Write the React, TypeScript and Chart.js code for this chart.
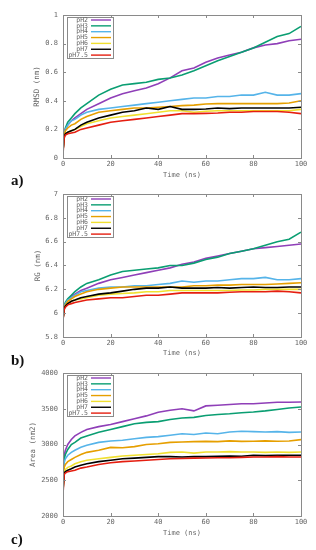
import React, { useEffect, useRef } from 'react';
import { Chart, registerables } from 'chart.js';
Chart.register(...registerables);

const TIME = [0, 0.5, 1, 2, 3.5, 5, 7.5, 10, 15, 20, 25, 30, 35, 40, 45, 50, 55, 60, 65, 70, 75, 80, 85, 90, 95, 100];
const LABELS = ['pH2', 'pH3', 'pH4', 'pH5', 'pH6', 'pH7', 'pH7.5'];
const COLORS = ['#8f3fb8', '#0a9e72', '#56b4e9', '#e69f00', '#f0e030', '#000000', '#e51e10'];

// Panel a: RMSD (nm)
const RMSD_PH2 = [0.05, 0.17, 0.20, 0.23, 0.26, 0.28, 0.31, 0.34, 0.38, 0.42, 0.45, 0.47, 0.49, 0.52, 0.56, 0.61, 0.63, 0.67, 0.70, 0.72, 0.74, 0.77, 0.79, 0.80, 0.82, 0.83];
const RMSD_PH3 = [0.05, 0.18, 0.21, 0.25, 0.28, 0.31, 0.35, 0.38, 0.44, 0.48, 0.51, 0.52, 0.53, 0.55, 0.56, 0.58, 0.61, 0.645, 0.68, 0.71, 0.74, 0.77, 0.81, 0.85, 0.87, 0.92];
const RMSD_PH4 = [0.05, 0.17, 0.20, 0.23, 0.26, 0.27, 0.30, 0.32, 0.34, 0.35, 0.36, 0.37, 0.38, 0.39, 0.40, 0.41, 0.42, 0.42, 0.43, 0.43, 0.44, 0.44, 0.46, 0.44, 0.44, 0.45];
const RMSD_PH5 = [0.05, 0.16, 0.19, 0.21, 0.23, 0.24, 0.27, 0.29, 0.32, 0.33, 0.34, 0.35, 0.35, 0.355, 0.36, 0.366, 0.37, 0.378, 0.38, 0.38, 0.38, 0.38, 0.38, 0.38, 0.385, 0.40];
const RMSD_PH6 = [0.05, 0.15, 0.17, 0.18, 0.19, 0.20, 0.22, 0.24, 0.26, 0.28, 0.29, 0.30, 0.31, 0.32, 0.33, 0.33, 0.32, 0.327, 0.33, 0.33, 0.33, 0.33, 0.33, 0.33, 0.33, 0.34];
const RMSD_PH7 = [0.05, 0.15, 0.17, 0.18, 0.19, 0.20, 0.23, 0.25, 0.28, 0.30, 0.32, 0.33, 0.35, 0.34, 0.36, 0.34, 0.34, 0.343, 0.35, 0.345, 0.35, 0.35, 0.35, 0.35, 0.35, 0.355];
const RMSD_PH75 = [0.03, 0.14, 0.16, 0.17, 0.175, 0.18, 0.20, 0.21, 0.23, 0.25, 0.26, 0.27, 0.28, 0.29, 0.30, 0.31, 0.31, 0.312, 0.315, 0.32, 0.32, 0.325, 0.325, 0.325, 0.32, 0.31];

// Panel b: RG (nm)
const RG_PH2 = [5.95, 6.05, 6.08, 6.11, 6.14, 6.16, 6.19, 6.21, 6.25, 6.28, 6.30, 6.32, 6.34, 6.36, 6.38, 6.41, 6.43, 6.46, 6.48, 6.50, 6.52, 6.54, 6.55, 6.56, 6.57, 6.58];
const RG_PH3 = [5.95, 6.06, 6.09, 6.12, 6.15, 6.18, 6.22, 6.25, 6.28, 6.32, 6.35, 6.36, 6.37, 6.38, 6.40, 6.40, 6.42, 6.45, 6.47, 6.50, 6.52, 6.54, 6.57, 6.60, 6.62, 6.68];
const RG_PH4 = [5.95, 6.05, 6.08, 6.11, 6.13, 6.15, 6.18, 6.19, 6.21, 6.22, 6.22, 6.23, 6.23, 6.24, 6.25, 6.27, 6.26, 6.27, 6.27, 6.28, 6.29, 6.29, 6.30, 6.28, 6.28, 6.29];
const RG_PH5 = [5.95, 6.05, 6.07, 6.10, 6.12, 6.14, 6.16, 6.18, 6.20, 6.21, 6.22, 6.22, 6.22, 6.22, 6.22, 6.22, 6.23, 6.23, 6.235, 6.235, 6.24, 6.24, 6.24, 6.245, 6.25, 6.255];
const RG_PH6 = [5.95, 6.04, 6.06, 6.08, 6.10, 6.11, 6.12, 6.13, 6.15, 6.16, 6.165, 6.17, 6.18, 6.18, 6.19, 6.19, 6.19, 6.19, 6.19, 6.19, 6.195, 6.195, 6.20, 6.20, 6.20, 6.20];
const RG_PH7 = [5.95, 6.04, 6.06, 6.08, 6.10, 6.11, 6.13, 6.14, 6.16, 6.17, 6.185, 6.20, 6.21, 6.21, 6.22, 6.21, 6.21, 6.21, 6.215, 6.21, 6.215, 6.22, 6.215, 6.215, 6.22, 6.22];
const RG_PH75 = [5.94, 6.03, 6.05, 6.07, 6.08, 6.09, 6.10, 6.11, 6.12, 6.13, 6.13, 6.14, 6.15, 6.15, 6.16, 6.17, 6.17, 6.17, 6.17, 6.175, 6.18, 6.18, 6.18, 6.185, 6.18, 6.17];

// Panel c: Area (nm2)
const AREA_PH2 = [2350, 2850, 2920, 3000, 3070, 3120, 3170, 3210, 3250, 3280, 3320, 3360, 3400, 3450, 3480, 3500, 3470, 3540, 3550, 3560, 3570, 3570, 3580, 3590, 3590, 3594];
const AREA_PH3 = [2350, 2800, 2860, 2930, 3000, 3030, 3090, 3120, 3170, 3210, 3250, 3290, 3310, 3320, 3350, 3370, 3380, 3405, 3420, 3430, 3445, 3455, 3470, 3490, 3510, 3524];
const AREA_PH4 = [2350, 2750, 2800, 2850, 2890, 2920, 2960, 2990, 3030, 3050, 3060, 3080, 3100, 3110, 3130, 3150, 3140, 3160, 3150, 3174, 3185, 3180, 3175, 3180, 3170, 3174];
const AREA_PH5 = [2350, 2680, 2720, 2760, 2790, 2820, 2860, 2890, 2920, 2960, 2955, 2970, 3000, 3010, 3030, 3035, 3040, 3044, 3040, 3050, 3044, 3045, 3050, 3045, 3050, 3068];
const AREA_PH6 = [2350, 2620, 2650, 2680, 2700, 2730, 2760, 2780, 2800, 2820, 2840, 2850, 2860, 2870, 2890, 2895, 2880, 2895, 2895, 2900, 2895, 2895, 2890, 2895, 2890, 2895];
const AREA_PH7 = [2350, 2600, 2620, 2640, 2660, 2685, 2710, 2730, 2760, 2780, 2800, 2810, 2820, 2830, 2830, 2825, 2830, 2830, 2835, 2840, 2835, 2849, 2845, 2850, 2849, 2849];
const AREA_PH75 = [2300, 2580, 2600, 2620, 2630, 2640, 2670, 2685, 2720, 2745, 2760, 2770, 2780, 2790, 2800, 2805, 2810, 2811, 2815, 2815, 2820, 2825, 2825, 2830, 2825, 2825];

const X_TICKS = [0, 20, 40, 60, 80, 100];
const RMSD_TICKS = [0, 0.2, 0.4, 0.6, 0.8, 1];
const RG_TICKS = [5.8, 6, 6.2, 6.4, 6.6, 6.8, 7];
const AREA_TICKS = [2000, 2500, 3000, 3500, 4000];

const FONT = 'DejaVu Sans Mono';
const TEXT_COLOR = '#666';
const FRAME_COLOR = '#8a8a8a';

type PanelProps = {
  series: number[][];
  yTicks: number[];
  yTitle: string;
  top: number;
  height: number;
  plotTop: number;
  plotBottom: number;
  xTitleCenter: number;
  yTitleCenter: number;
};

const framePlugin = {
  id: 'gnuFrame',
  afterDatasetsDraw(chart: any) {
    const { ctx, chartArea } = chart;
    const { left, right, top, bottom } = chartArea;
    const xs = chart.scales.x;
    const ys = chart.scales.y;
    ctx.save();
    ctx.strokeStyle = FRAME_COLOR;
    ctx.lineWidth = 1;
    ctx.strokeRect(Math.round(left) + 0.5, Math.round(top) + 0.5, Math.round(right - left), Math.round(bottom - top));
    const tl = 3;
    ctx.beginPath();
    xs.ticks.forEach((t: any) => {
      const px = Math.round(xs.getPixelForValue(t.value)) + 0.5;
      ctx.moveTo(px, bottom);
      ctx.lineTo(px, bottom - tl);
      ctx.moveTo(px, top);
      ctx.lineTo(px, top + tl);
    });
    ys.ticks.forEach((t: any) => {
      const py = Math.round(ys.getPixelForValue(t.value)) + 0.5;
      ctx.moveTo(left, py);
      ctx.lineTo(left + tl, py);
      ctx.moveTo(right, py);
      ctx.lineTo(right - tl, py);
    });
    ctx.stroke();

    // legend box (gnuplot style: text right-aligned, sample line to the right)
    const bx = left + 4;
    const by = top + 1.5;
    const bw = 46;
    const bh = 41;
    ctx.strokeStyle = FRAME_COLOR;
    ctx.strokeRect(Math.round(bx) + 0.5, Math.round(by) + 0.5, bw, bh);
    ctx.font = `6.5px "${FONT}"`;
    ctx.textAlign = 'right';
    ctx.textBaseline = 'middle';
    chart.data.datasets.forEach((ds: any, i: number) => {
      const ry = by + 3.5 + i * 5.85;
      ctx.fillStyle = TEXT_COLOR;
      ctx.fillText(ds.label, bx + 21, ry);
      ctx.strokeStyle = ds.borderColor;
      ctx.lineWidth = 1.4;
      ctx.beginPath();
      ctx.moveTo(bx + 24, ry);
      ctx.lineTo(bx + 44, ry);
      ctx.stroke();
    });
    ctx.restore();
  },
};

function fmt(v: number) {
  return String(Math.round(v * 10) / 10);
}

function Panel(props: PanelProps) {
  const ref = useRef<HTMLCanvasElement>(null);
  useEffect(() => {
    const canvas = ref.current;
    if (!canvas) return;
    const yMin = props.yTicks[0];
    const yMax = props.yTicks[props.yTicks.length - 1];
    const yStep = props.yTicks[1] - props.yTicks[0];
    const axisH = props.height - props.plotBottom;
    const chart = new Chart(canvas, {
      type: 'line',
      data: {
        datasets: props.series.map((arr, i) => ({
          label: LABELS[i],
          data: TIME.map((t, k) => ({ x: t, y: arr[k] })),
          borderColor: COLORS[i],
          backgroundColor: COLORS[i],
          borderWidth: 1.6,
          pointRadius: 0,
          tension: 0,
          fill: false,
          order: 6 - i,
        })),
      },
      options: {
        responsive: false,
        animation: false,
        devicePixelRatio: 1,
        layout: { padding: { left: 0, right: 15, top: props.plotTop, bottom: 0 } },
        plugins: { legend: { display: false }, tooltip: { enabled: false } },
        scales: {
          x: {
            type: 'linear',
            min: 0,
            max: 100,
            afterBuildTicks: (s: any) => { s.ticks = X_TICKS.map((v) => ({ value: v })); },
            afterFit: (s: any) => { s.height = axisH; },
            grid: { display: false, drawTicks: false },
            border: { display: false },
            ticks: { color: TEXT_COLOR, font: { family: FONT, size: 7 }, padding: 2, maxRotation: 0, callback: (v: any) => String(v) },
            title: {
              display: true,
              text: 'Time (ns)',
              color: TEXT_COLOR,
              font: { family: FONT, size: 7 },
              padding: { top: 0, bottom: props.height - props.xTitleCenter - 4.2 },
            },
          },
          y: {
            type: 'linear',
            min: yMin,
            max: yMax,
            afterBuildTicks: (s: any) => { s.ticks = props.yTicks.map((v) => ({ value: v })); },
            afterFit: (s: any) => { s.width = 63; },
            grid: { display: false, drawTicks: false },
            border: { display: false },
            ticks: { color: TEXT_COLOR, font: { family: FONT, size: 7 }, padding: 5, stepSize: yStep, callback: (v: any) => fmt(Number(v)) },
            title: {
              display: true,
              text: props.yTitle,
              color: TEXT_COLOR,
              font: { family: FONT, size: 7.5 },
              padding: { top: props.yTitleCenter - 4.5, bottom: 0 },
            },
          },
        },
      },
      plugins: [framePlugin],
    } as any);
    return () => chart.destroy();
  }, []);
  return (
    <canvas
      ref={ref}
      width={316}
      height={props.height}
      style={{ position: 'absolute', left: 0, top: props.top, width: 316, height: props.height }}
    />
  );
}

const letterStyle = (top: number): React.CSSProperties => ({
  position: 'absolute',
  left: 11,
  top,
  fontFamily: '"Liberation Serif", serif',
  fontSize: 15,
  fontWeight: 'bold',
  lineHeight: '16px',
  color: '#111',
  zIndex: 2,
});

export default function App() {
  return (
    <div style={{ position: 'absolute', left: 0, top: 0, width: 316, height: 550, background: '#fff', overflow: 'hidden' }}>
      <Panel
        series={[RMSD_PH2, RMSD_PH3, RMSD_PH4, RMSD_PH5, RMSD_PH6, RMSD_PH7, RMSD_PH75]}
        yTicks={RMSD_TICKS}
        yTitle="RMSD (nm)"
        top={0}
        height={180}
        plotTop={15}
        plotBottom={158}
        xTitleCenter={175}
        yTitleCenter={37}
      />
      <Panel
        series={[RG_PH2, RG_PH3, RG_PH4, RG_PH5, RG_PH6, RG_PH7, RG_PH75]}
        yTicks={RG_TICKS}
        yTitle="RG (nm)"
        top={180}
        height={180}
        plotTop={14}
        plotBottom={157}
        xTitleCenter={173}
        yTitleCenter={38}
      />
      <Panel
        series={[AREA_PH2, AREA_PH3, AREA_PH4, AREA_PH5, AREA_PH6, AREA_PH7, AREA_PH75]}
        yTicks={AREA_TICKS}
        yTitle="Area (nm2)"
        top={360}
        height={180}
        plotTop={13}
        plotBottom={156}
        xTitleCenter={173}
        yTitleCenter={33}
      />
      <div style={letterStyle(172)}>a)</div>
      <div style={letterStyle(352)}>b)</div>
      <div style={letterStyle(531)}>c)</div>
    </div>
  );
}
